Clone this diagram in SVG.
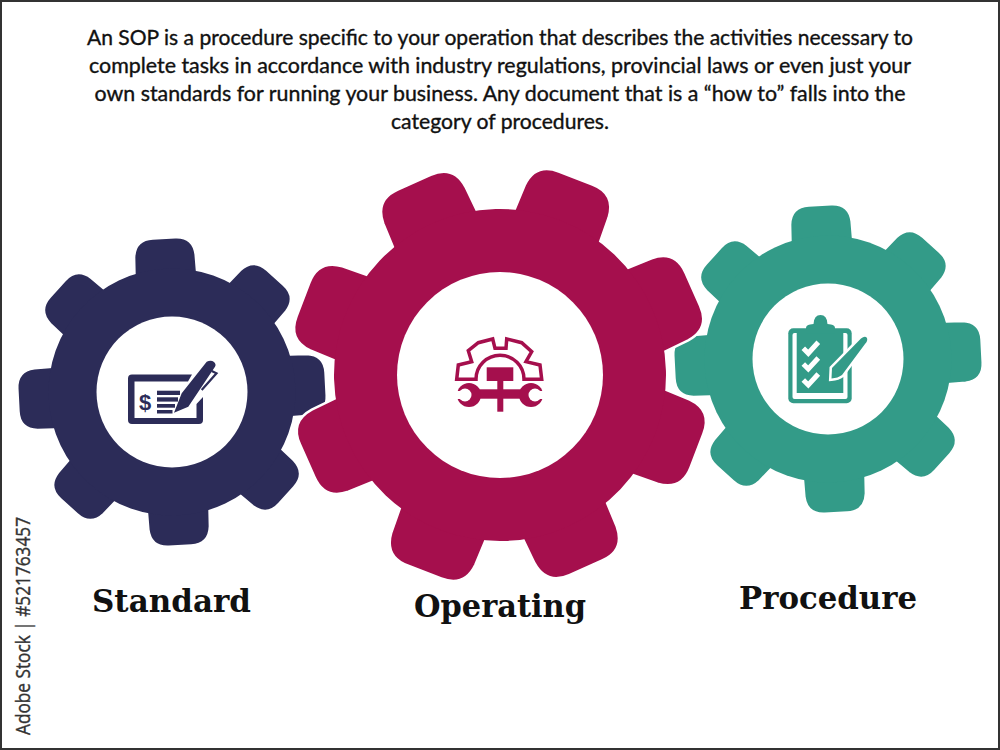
<svg xmlns="http://www.w3.org/2000/svg" width="1000" height="750" viewBox="0 0 1000 750">
<style>
.intro{font-family:"Lato","Open Sans",sans-serif;font-size:20.5px;fill:#111;stroke:#111;stroke-width:.35px}
.label{font-family:"DejaVu Serif",serif;font-weight:700;font-size:31px;fill:#111}
.tooth{stroke:#fff;stroke-width:2.5}
</style>
<defs>
<path id="tooth" d="M-42,-150L-41,-183Q-39,-207 -15,-207L15,-207Q39,-207 41,-183L42,-150Z"/>
<path id="tooth-wide" d="M-46,-150L-45,-186Q-43,-211 -18,-211L18,-211Q43,-211 45,-186L46,-150Z"/>
<g id="gear">
<use href="#tooth" class="tooth" transform="rotate(0)"/>
<use href="#tooth" class="tooth" transform="rotate(45)"/>
<use href="#tooth" class="tooth" transform="rotate(90)"/>
<use href="#tooth" class="tooth" transform="rotate(135)"/>
<use href="#tooth" class="tooth" transform="rotate(180)"/>
<use href="#tooth" class="tooth" transform="rotate(225)"/>
<use href="#tooth" class="tooth" transform="rotate(270)"/>
<use href="#tooth" class="tooth" transform="rotate(315)"/>
<circle r="166"/>
</g>
<g id="gear-wide">
<use href="#tooth-wide" class="tooth" transform="rotate(0)"/>
<use href="#tooth-wide" class="tooth" transform="rotate(45)"/>
<use href="#tooth-wide" class="tooth" transform="rotate(90)"/>
<use href="#tooth-wide" class="tooth" transform="rotate(135)"/>
<use href="#tooth-wide" class="tooth" transform="rotate(180)"/>
<use href="#tooth-wide" class="tooth" transform="rotate(225)"/>
<use href="#tooth-wide" class="tooth" transform="rotate(270)"/>
<use href="#tooth-wide" class="tooth" transform="rotate(315)"/>
<circle r="166"/>
</g>
</defs>
<rect width="1000" height="750" fill="#fff"/>
<rect x="1" y="1" width="998" height="748" fill="none" stroke="#333" stroke-width="2"/>
<g id="intro-text" class="intro" text-anchor="middle">
<text x="500" y="44.500" textLength="826" lengthAdjust="spacingAndGlyphs">An SOP is a procedure specific to your operation that describes the activities necessary to</text>
<text x="500" y="72.500" textLength="822" lengthAdjust="spacingAndGlyphs">complete tasks in accordance with industry regulations, provincial laws or even just your</text>
<text x="500" y="101" textLength="811" lengthAdjust="spacingAndGlyphs">own standards for running your business. Any document that is a “how to” falls into the</text>
<text x="500" y="129" textLength="218" lengthAdjust="spacingAndGlyphs">category of procedures.</text>
</g>
<g id="gear-procedure">
<use href="#gear" fill="#339B88" transform="translate(828,359) rotate(-3) scale(.744)"/>
<circle cx="828" cy="359" r="75.500" fill="#fff"/>
<g id="icon-clipboard" fill="#339B88">
<rect x="788.300" y="328.300" width="63.400" height="75" rx="5"/>
<rect x="792.500" y="333" width="55" height="66" rx="2" fill="#fff"/>
<rect x="796.700" y="333" width="46.600" height="60"/>
<path d="M806,333.500V328Q806,325 810,324.500L813.500,324Q814,315 820.500,315Q827,315 827.500,324L831,324.500Q835,325 835,328V333.500Z"/>
<path d="M803.300,348.300L808.300,353.300L818.300,342.300M803.300,364L808.300,369L818.300,358M803.300,380L808.300,385L818.300,374" fill="none" stroke="#fff" stroke-width="5"/>
<path d="M831.500,378.500L832,368L861,338.500Q865,335.500 867,338Q868,341 865,344L842,375Q838,378 831.500,378.500Z" stroke="#fff" stroke-width="5" paint-order="stroke"/>
</g>
</g>
<g id="gear-standard">
<use href="#gear" fill="#2C2C58" transform="translate(172,392) rotate(-3) scale(.744)"/>
<circle cx="172" cy="392" r="75.500" fill="#fff"/>
<g id="icon-cheque" fill="#2C2C58">
<path d="M192,374.500H132a4,4 0 0 0 -4,4V420a4,4 0 0 0 4,4H199a4,4 0 0 0 4,-4V397L196.500,404V418H134.500V381.500H188Z"/>
<rect x="157" y="390.700" width="23" height="4.300"/>
<rect x="157" y="397.300" width="21" height="4.300"/>
<rect x="157" y="404" width="18" height="3.700"/>
<rect x="157" y="410" width="15.500" height="3.500"/>
<text x="145" y="409.500" font-family="Liberation Sans,sans-serif" font-weight="700" font-size="22" text-anchor="middle">$</text>
<path d="M174,412.700L181.700,393.300L206.700,361.700Q211,359.500 214,362Q216.500,364.500 215,366.700L188.300,406.700Z"/>
<path d="M211.700,371L216.500,373.300L201.700,390" fill="none" stroke="#2C2C58" stroke-width="2.200"/>
</g>
</g>
<g id="gear-operating">
<use href="#gear-wide" fill="#A50F4D" transform="translate(500,375) rotate(21)"/>
<circle cx="500" cy="375" r="103" fill="#fff"/>
<g id="icon-tools" fill="#A50F4D">
<path d="M456.700,379.300L458.300,365L471.700,361.700L468.300,350.700L478.300,342.700L492.700,339L495,348.300H506L506.700,339L521.700,342.700L531.700,351.700L526,361.700L540,365L541.700,379.300H524A24,24 0 0 0 476,379.300Z" fill="none" stroke="#A50F4D" stroke-width="3.500"/>
<rect x="486.700" y="367.300" width="26.600" height="13.700"/>
<rect x="497.300" y="381" width="6" height="30.700"/>
<rect x="473" y="389.300" width="54" height="9.400"/>
<circle cx="469" cy="395" r="12"/><circle cx="531" cy="395" r="12"/>
<circle cx="465" cy="395" r="6.500" fill="#fff"/><circle cx="535" cy="395" r="6.500" fill="#fff"/>
<rect x="452" y="391" width="13" height="8" fill="#fff"/><rect x="535" y="391" width="13" height="8" fill="#fff"/>
</g>
</g>
<g id="labels" class="label" text-anchor="middle">
<text x="171.500" y="611.500" textLength="159" lengthAdjust="spacingAndGlyphs">Standard</text>
<text x="500" y="617" textLength="172" lengthAdjust="spacingAndGlyphs">Operating</text>
<text x="828" y="609" textLength="178" lengthAdjust="spacingAndGlyphs">Procedure</text>
</g>
<text id="stock-credit" transform="translate(29.500,735) rotate(-90)" font-family="Open Sans,sans-serif" font-size="20" fill="#333" stroke="#333" stroke-width=".4" textLength="218" lengthAdjust="spacingAndGlyphs">Adobe Stock | #521763457</text>
</svg>
